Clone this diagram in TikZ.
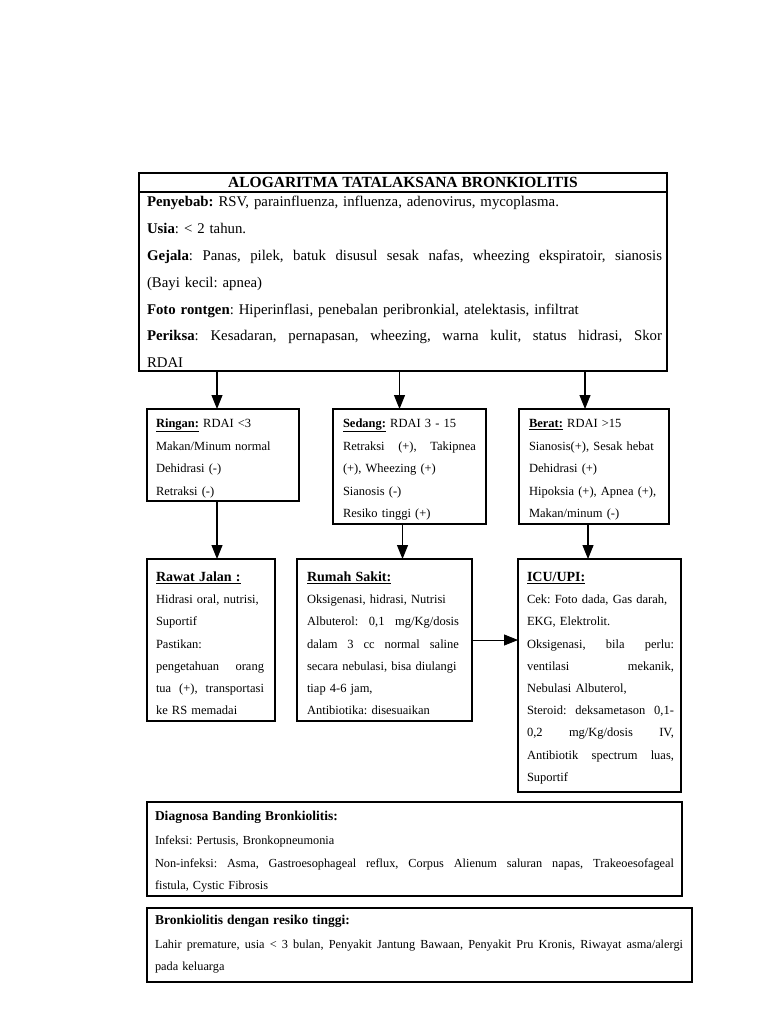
\documentclass[tikz,border=0pt]{standalone}
\usepackage{fontspec}
\setmainfont{Liberation Serif}
\usetikzlibrary{arrows.meta,calc}
\frenchspacing
\newcommand\justline[2]{\leavevmode\hbox to #1{\spaceskip=0.25em plus 1fil\xspaceskip=0.25em plus 1fil\relax #2}}
\begin{document}
\frenchspacing
\begin{tikzpicture}[x=1pt,y=-1pt,
 box/.style={draw=black,line width=1.1pt,inner sep=0pt,outer sep=0pt,anchor=north west},
 txt/.style={anchor=base west,inner sep=0pt,outer sep=0pt,align=left},
 big/.style={font=\frenchspacing\fontsize{14.8}{26.8}\selectfont},
 small/.style={font=\frenchspacing\fontsize{12.5}{22.6}\selectfont},
 lower/.style={font=\frenchspacing\fontsize{12.5}{22.2}\selectfont},
 bottomtxt/.style={font=\frenchspacing\fontsize{12.3}{22.4}\selectfont},
 arr/.style={line width=1.1pt,-{Triangle[width=11pt,length=14pt]}},
]
\path[use as bounding box,fill=white] (0,0) rectangle (768,1024);

% top box
\node[box,minimum width=528pt,minimum height=198pt] (top) at (139,173) {};
\draw[line width=1.1pt] ($(top.north west)+(0,19)$) -- ($(top.north east)+(0,19)$);
\node[anchor=base,inner sep=0pt,font=\fontsize{15.5}{18}\selectfont\bfseries] (title) at (403,187.5) {ALOGARITMA TATALAKSANA BRONKIOLITIS};
\node[txt,big,text width=515pt] (topT) at (147,207) {%
\textbf{Penyebab:} RSV, parainfluenza, influenza, adenovirus, mycoplasma.\\
\textbf{Usia}: < 2 tahun.\\
\justline{515pt}{\textbf{Gejala}: Panas, pilek, batuk disusul sesak nafas, wheezing ekspiratoir, sianosis}\\
(Bayi kecil: apnea)\\
\textbf{Foto rontgen}: Hiperinflasi, penebalan peribronkial, atelektasis, infiltrat\\
\justline{515pt}{\textbf{Periksa}: Kesadaran, pernapasan, wheezing, warna kulit, status hidrasi, Skor}\\
RDAI};

% middle row
\node[box,minimum width=152pt,minimum height=92pt] (ringan) at (147,409) {};
\node[txt,small,text width=135pt] (ringanT) at (156,427.5) {%
\underline{\textbf{Ringan:}} RDAI <3\\
Makan/Minum normal\\
Dehidrasi (-)\\
Retraksi (-)};

\node[box,minimum width=153pt,minimum height=115pt] (sedang) at (333,409) {};
\node[txt,small,text width=133pt] (sedangT) at (343,427.5) {%
\underline{\textbf{Sedang:}} RDAI 3 - 15\\
\justline{133pt}{Retraksi (+), Takipnea}\\
(+), Wheezing (+)\\
Sianosis (-)\\
Resiko tinggi (+)};

\node[box,minimum width=150pt,minimum height=115pt] (berat) at (519,409) {};
\node[txt,small,text width=134pt] (beratT) at (529,427.5) {%
\underline{\textbf{Berat:}} RDAI >15\\
Sianosis(+), Sesak hebat\\
Dehidrasi (+)\\
Hipoksia (+), Apnea (+),\\
Makan/minum (-)};

% lower row
\node[box,minimum width=128pt,minimum height=162pt] (rawat) at (147,559) {};
\node[txt,lower,text width=108pt] (rawatT) at (156,581.5) {%
{\fontsize{14}{22.2}\selectfont\underline{\textbf{Rawat Jalan :}}}\\
Hidrasi oral, nutrisi,\\
Suportif\\
Pastikan:\\
\justline{108pt}{pengetahuan orang}\\
\justline{108pt}{tua (+), transportasi}\\
ke RS memadai};

\node[box,minimum width=175pt,minimum height=162pt] (rumah) at (297,559) {};
\node[txt,lower,text width=152pt] (rumahT) at (307,581.5) {%
{\fontsize{14}{22.2}\selectfont\underline{\textbf{Rumah Sakit:}}}\\
Oksigenasi, hidrasi, Nutrisi\\
\justline{152pt}{Albuterol: 0,1 mg/Kg/dosis}\\
\justline{152pt}{dalam 3 cc normal saline}\\
secara nebulasi, bisa diulangi\\
tiap 4-6 jam,\\
Antibiotika: disesuaikan};

\node[box,minimum width=163pt,minimum height=233pt] (icu) at (518,559) {};
\node[txt,lower,text width=147pt] (icuT) at (527,581.5) {%
{\fontsize{14}{22.2}\selectfont\underline{\textbf{ICU/UPI:}}}\\
Cek: Foto dada, Gas darah,\\
EKG, Elektrolit.\\
\justline{147pt}{Oksigenasi, bila perlu:}\\
\justline{147pt}{ventilasi mekanik,}\\
Nebulasi Albuterol,\\
\justline{147pt}{Steroid: deksametason 0,1-}\\
\justline{147pt}{0,2 mg/Kg/dosis IV,}\\
\justline{147pt}{Antibiotik spectrum luas,}\\
Suportif};

% bottom boxes
\node[box,minimum width=535pt,minimum height=94pt] (diag) at (147,802) {};
\node[txt,bottomtxt,text width=519pt] (diagT) at (155,820) {%
{\fontsize{13.5}{22.4}\selectfont\textbf{Diagnosa Banding Bronkiolitis:}}\\[2.2pt]
Infeksi: Pertusis, Bronkopneumonia\\
\justline{519pt}{Non-infeksi: Asma, Gastroesophageal reflux, Corpus Alienum saluran napas, Trakeoesofageal}\\
fistula, Cystic Fibrosis};

\node[box,minimum width=545pt,minimum height=74pt] (resiko) at (147,908) {};
\node[txt,bottomtxt,text width=528pt] (resikoT) at (155,924) {%
{\fontsize{13.5}{22.4}\selectfont\textbf{Bronkiolitis dengan resiko tinggi:}}\\[1.6pt]
\justline{528pt}{Lahir premature, usia < 3 bulan, Penyakit Jantung Bawaan, Penyakit Pru Kronis, Riwayat asma/alergi}\\
pada keluarga};

% connectors
\coordinate (c1) at ($(ringan.north)+(-6,0)$);
\coordinate (c2) at ($(sedang.north)+(-10,0)$);
\coordinate (c3) at ($(berat.north)+(-9,0)$);
\draw[arr] (c1 |- top.south) -- (c1);
\draw[arr] (c2 |- top.south) -- (c2);
\draw[arr] (c3 |- top.south) -- (c3);
\coordinate (c4) at ($(ringan.south)+(-6,0)$);
\coordinate (c5) at ($(sedang.south)+(-7,0)$);
\coordinate (c6) at ($(berat.south)+(-6,0)$);
\draw[arr] (c4) -- (c4 |- rawat.north);
\draw[arr] (c5) -- (c5 |- rumah.north);
\draw[arr] (c6) -- (c6 |- icu.north);
\draw[arr,line width=0.8pt] (rumah.east) -- (rumah.east -| icu.west);
\end{tikzpicture}
\end{document}
